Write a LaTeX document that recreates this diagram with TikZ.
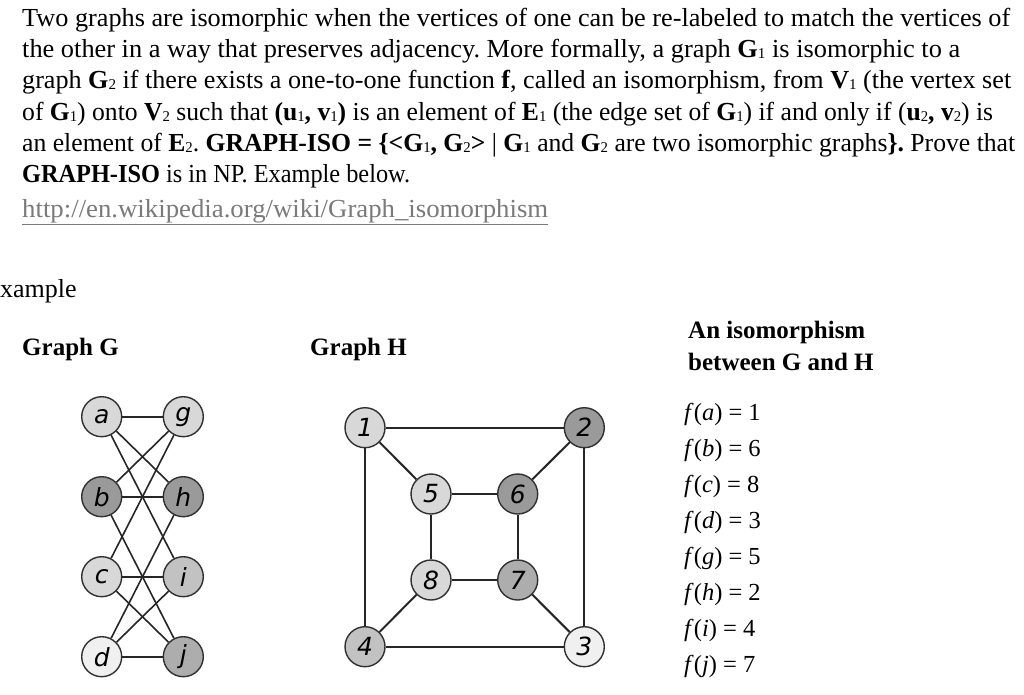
\documentclass[tikz,border=0pt]{standalone}
\usepackage{fontspec}
\usepackage{graphicx}
\setmainfont{Liberation Serif}
\newfontfamily\lblfont{DejaVu Sans}
\frenchspacing
\newcommand{\sbn}[1]{\raisebox{-0.12ex}{\fontsize{15}{15}\selectfont\mdseries\upshape #1}}
\newcommand{\fitline}[2]{\resizebox{#1pt}{\height}{#2}}
\definecolor{vlight}{HTML}{F0F0F0}
\definecolor{light}{HTML}{D8D8D8}
\definecolor{medg}{HTML}{C2C2C2}
\definecolor{mdark}{HTML}{ADADAD}
\definecolor{dark}{HTML}{9A9A9A}
\definecolor{rim}{HTML}{303030}
\definecolor{linkgray}{HTML}{7A7A7A}
\tikzset{
  vtx/.style={circle, draw=rim, line width=1.4pt, minimum size=40pt, inner sep=0pt,
    font=\lblfont\itshape\fontsize{25}{25}\selectfont},
  gedge/.style={draw=black!85, line width=1.6pt},
  hedge/.style={draw=black!85, line width=2pt},
  txt/.style={anchor=base west, inner sep=0pt, font=\fontsize{26}{26}\selectfont},
  head/.style={anchor=base west, inner sep=0pt, font=\bfseries\fontsize{25}{25}\selectfont},
  fmap/.style={anchor=base west, inner sep=0pt, font=\fontsize{24.5}{24.5}\selectfont}
}
\begin{document}
\begin{tikzpicture}[x=1pt,y=-1pt]
\useasboundingbox[fill=white] (0,0) rectangle (1024,694);
% paragraph
\node[txt] (l1) at (22,26) {\fitline{988}{Two graphs are isomorphic when the vertices of one can be re-labeled to match the vertices of}};
\node[txt] (l2) at (22,57) {\fitline{938}{the other in a way that preserves adjacency. More formally, a graph \textbf{G}\sbn{1} is isomorphic to a}};
\node[txt] (l3) at (22,88.5) {\fitline{989}{graph \textbf{G}\sbn{2} if there exists a one-to-one function \textbf{f}, called an isomorphism, from \textbf{V}\sbn{1} (the vertex set}};
\node[txt] (l4) at (22,120) {\fitline{971}{of \textbf{G}\sbn{1}) onto \textbf{V}\sbn{2} such that \textbf{(u\sbn{1}, v\sbn{1})} is an element of \textbf{E}\sbn{1} (the edge set of \textbf{G}\sbn{1}) if and only if (\textbf{u\sbn{2}, v\sbn{2}}) is}};
\node[txt] (l5) at (22,151.5) {\fitline{993}{an element of \textbf{E}\sbn{2}. \textbf{GRAPH-ISO = \{<G\sbn{1}, G\sbn{2}>} | \textbf{G}\sbn{1} and \textbf{G}\sbn{2} are two isomorphic graphs\textbf{\}.} Prove that}};
\node[txt] (l6) at (22,182.5) {\fitline{388}{\textbf{GRAPH-ISO} is in NP. Example below.}};
\node[txt, text=linkgray] (link) at (22,217) {\fitline{526}{\underline{http://en.wikipedia.org/wiki/Graph\_isomorphism}}};
\node[txt] (ex) at (0,297) {xample};
% headings
\node[head] (hg) at (22,355) {Graph G};
\node[head] (hh) at (310,355) {Graph H};
\node[head] (hi1) at (688,338) {An isomorphism};
\node[head] (hi2) at (688,370) {between G and H};
% mapping
\node[fmap] (fa) at (684,420) {\textit{f}(\textit{a}) = 1};
\node[fmap] (fb) at (684,456) {\textit{f}(\textit{b}) = 6};
\node[fmap] (fc) at (684,492) {\textit{f}(\textit{c}) = 8};
\node[fmap] (fd) at (684,528) {\textit{f}(\textit{d}) = 3};
\node[fmap] (fg) at (684,564) {\textit{f}(\textit{g}) = 5};
\node[fmap] (fh) at (684,600) {\textit{f}(\textit{h}) = 2};
\node[fmap] (fi) at (684,636) {\textit{f}(\textit{i}) = 4};
\node[fmap] (fj) at (684,672) {\textit{f}(\textit{j}) = 7};
% Graph G
\node[vtx, fill=light] (a) at (101.7,416.7) {a};
\node[vtx, fill=dark]  (b) at (101.7,496.7) {b};
\node[vtx, fill=light] (c) at (101.7,576.7) {c};
\node[vtx, fill=vlight] (d) at (101.7,656.7) {d};
\node[vtx, fill=light] (g) at (183.3,416.7) {g};
\node[vtx, fill=dark]  (h) at (183.3,496.7) {h};
\node[vtx, fill=medg]  (i) at (183.3,576.7) {i};
\node[vtx, fill=mdark] (j) at (183.3,656.7) {j};
\foreach \u/\v in {a/g,a/h,a/i,b/g,b/h,b/j,c/g,c/i,c/j,d/h,d/i,d/j}
  \draw[gedge] (\u) -- (\v);
% Graph H
\node[vtx, fill=light] (n1) at (365,427.7) {1};
\node[vtx, fill=dark]  (n2) at (584.3,427.7) {2};
\node[vtx, fill=vlight] (n3) at (584.3,646.7) {3};
\node[vtx, fill=medg]  (n4) at (365,646.7) {4};
\node[vtx, fill=light] (n5) at (431,494) {5};
\node[vtx, fill=dark]  (n6) at (517.7,494) {6};
\node[vtx, fill=mdark] (n7) at (517.7,580) {7};
\node[vtx, fill=light] (n8) at (431,580) {8};
\foreach \u/\v in {n1/n2,n1/n4,n1/n5,n2/n6,n2/n3,n5/n6,n5/n8,n6/n7,n8/n7,n8/n4,n7/n3,n4/n3}
  \draw[hedge] (\u) -- (\v);
\end{tikzpicture}
\end{document}
